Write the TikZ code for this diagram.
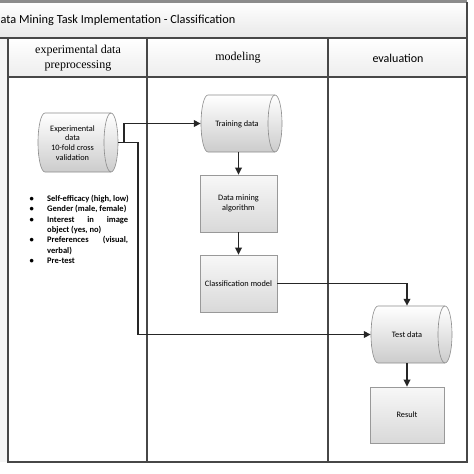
\documentclass[tikz,border=0pt]{standalone}
\usepackage{fontspec}
\setmainfont{Carlito}
\newfontfamily\serifhd{Liberation Serif}
\usetikzlibrary{arrows.meta}
\newcommand\drawcyl[5]{% cx cy w h rx
  \shade[top color=white, bottom color=black!20, draw=black!45, line width=0.6pt]
    ({#1-#3/2+#5},{#2-#4/2}) -- ({#1+#3/2-#5},{#2-#4/2})
    arc[start angle=-90, end angle=90, x radius=#5, y radius=#4/2]
    -- ({#1-#3/2+#5},{#2+#4/2})
    arc[start angle=90, end angle=270, x radius=#5, y radius=#4/2] -- cycle;
  \draw[black!45, line width=0.6pt] ({#1+#3/2-#5},{#2-#4/2})
    arc[start angle=270, end angle=90, x radius=#5, y radius=#4/2];
}
\begin{document}
\begin{tikzpicture}[x=1pt,y=-1pt,
  lane/.style={draw=black!72, line width=1.1pt},
  arr/.style={draw=black!85, line width=1.9pt, -{Triangle[length=7pt,width=6.5pt]}},
  box/.style={draw=black!40, line width=0.6pt, top color=black!3, bottom color=black!15,
    font=\fontsize{8.3}{9.8}\selectfont, align=center, inner sep=0pt},
  geo/.style={inner sep=0pt, draw=none},
  lbl/.style={font=\fontsize{8.3}{9.8}\selectfont, align=center, inner sep=0pt},
  hdr/.style={font=\serifhd\fontsize{12}{14.5}\selectfont, align=center, inner sep=0pt},
]
\useasboundingbox (0,0) rectangle (474,474);
% background bands
\shade[top color=white, bottom color=black!9] (0,2) rectangle (467,38);
\fill[black!45] (0,0) rectangle (467,2.5);
\shade[top color=white, bottom color=black!7] (8,38) rectangle (467,77);
\fill[black!4] (0,38) rectangle (8,462);
% title
\node[anchor=west, inner sep=0pt, font=\fontsize{12.3}{14}\selectfont] (title) at (0.5,20)
  {ata Mining Task Implementation - Classification};
% lanes
\draw[lane] (0,38) -- (467,38);
\draw[lane] (8,77) -- (467,77);
\draw[lane] (467,2) -- (467,462) -- (8,462) -- (8,38);
\draw[lane] (147,38) -- (147,462);
\draw[lane] (328,38) -- (328,462);
% headers
\node[hdr] (h1) at (78,58) {experimental data\\preprocessing};
\node[hdr] (h2) at (238,58) {modeling};
\node[inner sep=0pt, font=\fontsize{12}{14}\selectfont] (h3) at (398,58) {evaluation};
% cylinders
\drawcyl{78}{142.5}{80}{59}{7}
\node[geo, minimum width=80pt, minimum height=59pt] (exp) at (78,142.5) {};
\node[lbl] (expl) at (72.5,143) {Experimental\\data\\10-fold cross\\validation};
\drawcyl{241.5}{123.5}{81}{57}{7}
\node[geo, minimum width=81pt, minimum height=57pt] (train) at (241.5,123.5) {};
\node[lbl] (trainl) at (237,124) {Training data};
\drawcyl{411.5}{334.5}{81}{57}{7}
\node[geo, minimum width=81pt, minimum height=57pt] (test) at (411.5,334.5) {};
\node[lbl] (testl) at (407,335) {Test data};
% boxes
\node[box, minimum width=77pt, minimum height=57pt] (dma) at (238.5,203.5) {Data mining\\algorithm};
\node[box, minimum width=77pt, minimum height=57pt] (cls) at (238.5,283.5) {Classification model};
\node[box, minimum width=74pt, minimum height=56pt] (res) at (407,415) {Result};
% bullet list
\node[anchor=north west, inner sep=0pt, align=left,
      font=\bfseries\fontsize{8.5}{10.3}\selectfont] (list) at (29.5,195) {%
  \makebox[17.5pt][l]{\textbullet}\makebox[81pt][l]{Self-efficacy (high, low)}\\
  \makebox[17.5pt][l]{\textbullet}\makebox[81pt][l]{Gender (male, female)}\\
  \makebox[17.5pt][l]{\textbullet}\makebox[81pt][s]{Interest in image}\\
  \makebox[17.5pt][l]{}\makebox[81pt][l]{object (yes, no)}\\
  \makebox[17.5pt][l]{\textbullet}\makebox[81pt][s]{Preferences (visual,}\\
  \makebox[17.5pt][l]{}\makebox[81pt][l]{verbal)}\\
  \makebox[17.5pt][l]{\textbullet}\makebox[81pt][l]{Pre-test}};
% connectors
\draw[arr] (exp.east) -- ++(6,0) |- (train.west);
\draw[arr] (exp.east) -- ++(20,0) |- (test.west);
\draw[arr] (train.south -| dma.north) -- (dma.north);
\draw[arr] (dma.south) -- (cls.north);
\draw[arr] (cls.east) -| (res.north |- test.north);
\draw[arr] (res.north |- test.south) -- (res.north);
\end{tikzpicture}
\end{document}
